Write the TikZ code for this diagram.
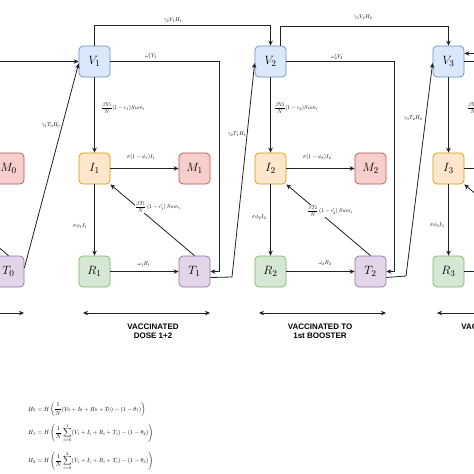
\documentclass[tikz,border=0pt]{standalone}
\usepackage{fontspec}
\newfontfamily\lsans{Liberation Sans}
\usetikzlibrary{arrows.meta}
\definecolor{vfill}{HTML}{DAE8FC}\definecolor{vdraw}{HTML}{6C8EBF}
\definecolor{ifill}{HTML}{FFE6CC}\definecolor{idraw}{HTML}{D79B00}
\definecolor{mfill}{HTML}{F8CECC}\definecolor{mdraw}{HTML}{B85450}
\definecolor{rfill}{HTML}{D5E8D4}\definecolor{rdraw}{HTML}{82B366}
\definecolor{tfill}{HTML}{E1D5E7}\definecolor{tdraw}{HTML}{9673A6}
\definecolor{ln}{HTML}{222222}
\newcommand{\lbtext}[1]{\scalebox{0.56}{$\displaystyle #1$}}
\newcommand{\eqtext}[1]{\scalebox{0.6}{$\displaystyle #1$}}
\tikzset{
 box/.style={draw, rounded corners=4pt, minimum width=31pt, minimum height=31pt, inner sep=0pt, line width=0.7pt, font=\fontsize{13}{15}\selectfont},
 vbox/.style={box, fill=vfill, draw=vdraw},
 ibox/.style={box, fill=ifill, draw=idraw},
 mbox/.style={box, fill=mfill, draw=mdraw},
 rbox/.style={box, fill=rfill, draw=rdraw},
 tbox/.style={box, fill=tfill, draw=tdraw},
 edge/.style={draw=ln, line width=0.8pt, -{Stealth[length=5pt,width=4.5pt]}},
 plain/.style={draw=ln, line width=0.8pt},
 lbl/.style={inner sep=0.5pt},
 wlbl/.style={lbl, fill=white},
 rlab/.style={font=\lsans\bfseries\fontsize{8}{9}\selectfont, align=center, inner sep=0pt},
 spanarrow/.style={draw=ln, line width=0.8pt, {Stealth[length=5pt,width=4.5pt]}-{Stealth[length=5pt,width=4.5pt]}},
 eqn/.style={anchor=west, inner sep=0pt}
}
\begin{document}
\begin{tikzpicture}[x=1pt,y=-1pt]
\useasboundingbox (0,0) rectangle (474,474);
\fill[white] (0,0) rectangle (474,474);
\clip (0,0) rectangle (474,474);
% nodes
\node[mbox] (M0) at (8.5,168.5) {$M_0$};
\node[tbox] (T0) at (8.5,271.5) {$T_0$};
\node[vbox] (V1) at (94.5,61.5) {$V_1$};
\node[ibox] (I1) at (94.5,168.5) {$I_1$};
\node[rbox] (R1) at (94.5,271.5) {$R_1$};
\node[mbox] (M1) at (194.5,168.5) {$M_1$};
\node[tbox] (T1) at (194.5,271.5) {$T_1$};
\node[vbox] (V2) at (270.5,61.5) {$V_2$};
\node[ibox] (I2) at (270.5,168.5) {$I_2$};
\node[rbox] (R2) at (270.5,271.5) {$R_2$};
\node[mbox] (M2) at (370.5,168.5) {$M_2$};
\node[tbox] (T2) at (370.5,271.5) {$T_2$};
\node[vbox] (V3) at (448.5,61.5) {$V_3$};
\node[ibox] (I3) at (448.5,168.5) {$I_3$};
\node[rbox] (R3) at (448.5,271.5) {$R_3$};
% coordinates
\coordinate (L0) at (-20,61.5);
\coordinate (D0) at (-74.5,185);
\coordinate (K1) at (219,61.5);
\coordinate (K2) at (394,61.5);
\coordinate (B1) at (232,277);
\coordinate (B2) at (406,276);
\coordinate (E3a) at (490,53.5);
\coordinate (E3b) at (490,61.5);
\coordinate (E3c) at (490,168.5);
\coordinate (E3d) at (547,255);
\coordinate (E3e) at (490,271.5);
% column 0 edges
\draw[edge] (L0) -- (V1.west);
\draw[plain] (T0.north) -- (D0);
\draw[edge] ([yshift=3.5pt]T0.east) -- ([yshift=-2pt]V1.west);
\node[lbl] (g1) at (51,125) {\lbtext{\gamma_1 T_0 H_0}};
% column 1 edges
\draw[edge] (V1.south) -- (I1.north);
\node[lbl, anchor=west] (bv1) at (101,108) {\lbtext{\frac{\beta V_1}{N}(1-\epsilon_1)Sum_i}};
\draw[edge] (I1.east) -- (M1.west);
\node[lbl] (s1) at (141,157) {\lbtext{\sigma(1-\phi_1)I_1}};
\draw[edge] (I1.south) -- (R1.north);
\node[lbl] (sp1) at (80,226) {\lbtext{\sigma\phi_1 I_1}};
\draw[edge] (R1.east) -- (T1.west);
\node[lbl] (w1) at (144,264) {\lbtext{\omega_1 R_1}};
\draw[edge] (T1.north) -- (I1.south east);
\node[wlbl] (bt1) at (158,207) {\lbtext{\frac{\beta T_1}{N}\left(1-\epsilon_1'\right)Sum_i}};
\draw[edge] (V1.east) -- (K1) |- (T1.east);
\node[lbl] (wp1) at (151,56) {\lbtext{\omega_1' V_1}};
\draw[edge] (V1.north) -- ++(0,-20) -| (V2.north);
\node[lbl] (gv1) at (173,20.5) {\lbtext{\gamma_2 V_1 H_1}};
\draw[edge] ([yshift=-6pt]T1.east) -- (B1) -- ([yshift=-1.5pt]V2.west);
\node[lbl] (g2) at (237,134) {\lbtext{\gamma_2 T_1 H_1}};
% column 2 edges
\draw[edge] (V2.south) -- (I2.north);
\node[lbl, anchor=west] (bv2) at (274,108) {\lbtext{\frac{\beta V_2}{N}(1-\epsilon_2)Sum_i}};
\draw[edge] (I2.east) -- (M2.west);
\node[lbl] (s2) at (317,157) {\lbtext{\sigma(1-\phi_2)I_2}};
\draw[edge] (I2.south) -- (R2.north);
\node[lbl] (sp2) at (259,217) {\lbtext{\sigma\phi_2 I_2}};
\draw[edge] (R2.east) -- (T2.west);
\node[lbl] (w2) at (325,263) {\lbtext{\omega_2 R_2}};
\draw[edge] (T2.north) -- (I2.south east);
\node[wlbl] (bt2) at (330,211) {\lbtext{\frac{\beta T_2}{N}\left(1-\epsilon_2'\right)Sum_i}};
\draw[edge] (V2.east) -- (K2) |- (T2.east);
\node[lbl] (wp2) at (337,57) {\lbtext{\omega_2' V_2}};
\draw[edge] ([xshift=10pt]V2.north) -- ++(0,-19) -| (V3.north);
\node[lbl] (gv2) at (363,17.5) {\lbtext{\gamma_3 V_2 H_2}};
\draw[edge] ([yshift=-6pt]T2.east) -- (B2) -- ([yshift=-1.5pt]V3.west);
\node[lbl] (g3) at (413,118) {\lbtext{\gamma_3 T_2 H_2}};
% column 3 edges
\draw[edge] (V3.south) -- (I3.north);
\node[lbl, anchor=west] (bv3) at (467,108) {\lbtext{\frac{\beta V_3}{N}(1-\epsilon_3)Sum_i}};
\draw[edge] (I3.south) -- (R3.north);
\node[lbl] (sp3) at (437,225) {\lbtext{\sigma\phi_3 I_3}};
\draw[edge] (E3a) -- ([yshift=8pt]V3.east);
\draw[plain] (V3.east) -- (E3b);
\draw[plain] (I3.east) -- (E3c);
\draw[edge] (E3d) -- (I3.south east);
\draw[plain] (R3.east) -- (E3e);
% phase spans
\coordinate (S0a) at (-100,313); \coordinate (S0b) at (24,313);
\coordinate (S1a) at (83,313); \coordinate (S1b) at (210,313);
\coordinate (S2a) at (259,313); \coordinate (S2b) at (386,313);
\coordinate (S3a) at (437,313); \coordinate (S3b) at (564,313);
\draw[spanarrow] (S0a) -- (S0b);
\draw[spanarrow] (S1a) -- (S1b);
\draw[spanarrow] (S2a) -- (S2b);
\draw[spanarrow] (S3a) -- (S3b);
\node[rlab] (p1) at (153,331) {VACCINATED\\DOSE 1+2};
\node[rlab] (p2) at (320,331) {VACCINATED TO\\1st BOOSTER};
\node[rlab] (p3) at (487,331) {VACCINATED\\FULLY};
% equations
\node[eqn] (h0) at (28,409.5) {\eqtext{H_0=H\left(\frac{1}{N}(V_0+I_0+R_0+T_0)-(1-\theta_1)\right)}};
\node[eqn] (h1) at (28,433) {\eqtext{H_1=H\left(\frac{1}{N}\sum_{i=0}^{1}(V_i+I_i+R_i+T_i)-(1-\theta_2)\right)}};
\node[eqn] (h2) at (28,461) {\eqtext{H_2=H\left(\frac{1}{N}\sum_{i=0}^{2}(V_i+I_i+R_i+T_i)-(1-\theta_3)\right)}};
\end{tikzpicture}
\end{document}
